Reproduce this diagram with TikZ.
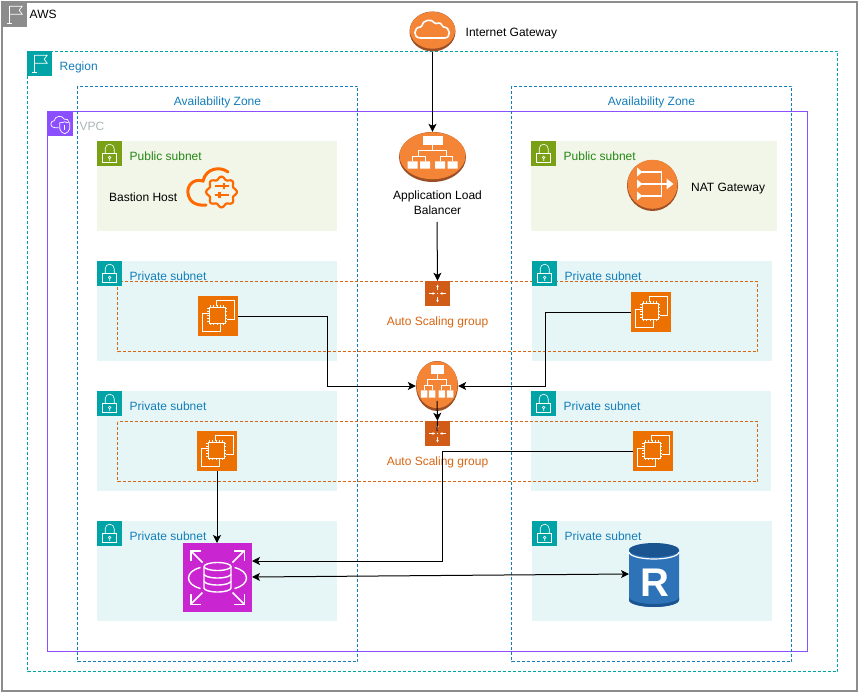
\documentclass[tikz,border=0pt]{standalone}
\usepackage{fontspec}
\setmainfont{Liberation Sans}
\usetikzlibrary{shapes.geometric,arrows.meta,calc}
\definecolor{awsgray}{HTML}{8C8C8C}
\definecolor{regionteal}{HTML}{00A4A6}
\definecolor{azblue}{HTML}{147EBA}
\definecolor{vpcpurple}{HTML}{8C4FFF}
\definecolor{pubgreen}{HTML}{7AA116}
\definecolor{pubtext}{HTML}{248814}
\definecolor{pubfill}{HTML}{F2F6E8}
\definecolor{privfill}{HTML}{E6F6F7}
\definecolor{asgorange}{HTML}{D86613}
\definecolor{ec2orange}{HTML}{ED7100}
\definecolor{asgfill}{HTML}{D05C17}
\definecolor{netorange}{HTML}{F58536}
\definecolor{netdark}{HTML}{9D5025}
\definecolor{auroramag}{HTML}{C925D1}
\definecolor{redisblue}{HTML}{2E73B8}
\definecolor{redisdark}{HTML}{1A5491}
\definecolor{bastionor}{HTML}{FF6A00}
\definecolor{vpcgray}{HTML}{AAB7B8}
\tikzset{
  lbl/.style={font=\fontsize{12}{15}\selectfont,inner sep=0pt,text=#1},
  lbl/.default=black,
  tagbox/.style={draw=none,fill=#1,minimum size=25pt,inner sep=0pt,anchor=north west,rectangle},
  subnetpub/.style={fill=pubfill,draw=none},
  subnetpriv/.style={fill=privfill,draw=none},
  zonebox/.style={draw=azblue,dashed,dash pattern=on 3pt off 2pt,line width=.8pt},
  regionbox/.style={draw=regionteal,dash pattern=on 3pt off 2pt,line width=.8pt},
  asgbox/.style={draw=asgorange,dash pattern=on 3pt off 2pt,line width=.7pt},
  iconbox/.style={rectangle,inner sep=0pt,fill=#1,minimum size=0pt},
  netellipse/.style={ellipse,inner sep=0pt,fill=netdark},
  wire/.style={draw=black,line width=1pt,-{Stealth[length=8pt,width=8pt,inset=2pt]}},
  wireboth/.style={draw=black,line width=1pt,{Stealth[length=8pt,width=8pt,inset=2pt]}-{Stealth[length=8pt,width=8pt,inset=2pt]}},
  stub/.style={draw=black,line width=1pt},
  glyph/.style={draw=white,line width=#1,fill=none},
  glyph/.default=1pt,
  flagglyph/.pic={
    \draw[glyph=.7pt] (-5,-8.5)--(-5,9) (-7.5,9)--(-2.5,9);
    \draw[glyph=.7pt] (-5,-8.5)--(7.5,-8.5)--(4.5,-4.5)--(7.5,-.5)--(-5,-.5);
  },
  lockglyph/.pic={
    \draw[glyph=.6pt] (-7,0) rectangle (7,9);
    \draw[glyph=.6pt] (-4.5,0)--(-4.5,-5) arc[start angle=180,end angle=0,x radius=4.5,y radius=-4.5]--(4.5,0);
    \draw[glyph=.6pt] (0,3.8) circle (1.3) (0,5.1)--(0,7.2);
  },
  vpcglyph/.pic={
    \draw[glyph=.7pt] (-2,4) -- (-6,4) .. controls (-11,4) and (-11,-3) .. (-6.5,-3) .. controls (-6,-8) and (2,-9) .. (3.5,-4.5) .. controls (6,-5) and (8,-4) .. (8,-2);
    \draw[glyph=.7pt] (-1,-1) .. controls (1,0) and (3,-2) .. (4,-2) .. controls (5,-2) and (7,0) .. (9,-1) -- (9,5) .. controls (9,8) and (6,9) .. (4,10) .. controls (2,9) and (-1,8) .. (-1,5) -- cycle;
    \draw[glyph=.6pt] (4,1)--(4,6);
  },
  cloudglyph/.pic={
    \draw[glyph=1.6pt,rounded corners=1pt] (-11,9) .. controls (-20,9) and (-19,-2) .. (-11,-2) .. controls (-10,-9) and (-1,-11) .. (3,-5) .. controls (7,-7) and (10,-5) .. (10,-2) .. controls (18,-2) and (19,9) .. (11,9) -- cycle;
  },
  lbglyph/.pic={
    \fill[white] (-10,-21) rectangle (10,-12.3);
    \fill[white] (-25,4.3) rectangle (-15,11.7) (-12.5,4.3) rectangle (-2.5,11.7) (2.5,4.3) rectangle (12.5,11.7) (15,4.3) rectangle (25,11.7);
    \draw[glyph=.9pt] (0,-12.3)--(0,-7) (-14,-1)--(-14,-7)--(14,-7)--(14,-1);
    \draw[glyph=.9pt] (-20,4.3)--(-20,-1)--(-7.5,-1)--(-7.5,4.3) (7.5,4.3)--(7.5,-1)--(20,-1)--(20,4.3);
  },
  natglyph/.pic={
    \draw[glyph=1.9pt] (-10.5,-13.5)--(9,-13.5)--(9,10.5)--(-10.5,10.5);
    \draw[glyph=1.9pt] (-10.5,-1.5)--(14,-1.5);
    \fill[white] (14,-7)--(21,-1.5)--(14,4)--cycle;
    \fill[white] (-15.5,-18)--(-10,-13.5)--(-15.5,-9)--cycle;
    \fill[white] (-15.5,-6)--(-10,-1.5)--(-15.5,3)--cycle;
    \fill[white] (-15.5,6)--(-10,10.5)--(-15.5,15)--cycle;
  },
  ectwoglyph/.pic={
    \draw[glyph=.9pt] (-2,-10)--(-2,-15.3)--(16,-15.3)--(16,3)--(9,3);
    \draw[glyph=.9pt] (-9,-2.3)--(-16,-2.3)--(-16,15.7)--(2,15.7)--(2,9);
    \draw[glyph=1pt] (-9,-9) rectangle (7,7);
    \foreach \t in {-6.5,-3.3,-.1,3.1,6.3}{
      \draw[glyph=.6pt] (\t-1,-9)--(\t-1,-11) (\t-1,7)--(\t-1,9) (-9,\t-1)--(-11,\t-1) (7,\t-1)--(9,\t-1);
    }
  },
  asgglyph/.pic={
    \draw[glyph=.6pt,-{Stealth[length=2.5pt,width=2.5pt]}] (0,-3.5)--(0,-9);
    \draw[glyph=.6pt,-{Stealth[length=2.5pt,width=2.5pt]}] (0,3.5)--(0,9);
    \draw[glyph=.6pt,-{Stealth[length=2.5pt,width=2.5pt]}] (-8.5,0)--(-2.5,0);
    \draw[glyph=.6pt,-{Stealth[length=2.5pt,width=2.5pt]}] (8.5,0)--(2.5,0);
    \fill[white] (0,0) circle (.7);
  },
  auroraglyph/.pic={
    \foreach \sx/\sy in {-1/-1,1/-1,-1/1,1/1}{
      \draw[glyph=1.6pt] (\sx*15,\sy*15)--(\sx*26.8,\sy*26.8);
      \draw[glyph=1.6pt] (\sx*16.5,\sy*26.8)--(\sx*26.8,\sy*26.8)--(\sx*26.8,\sy*16.5);
    }
    \draw[glyph=1.4pt] (-13.5,-11) arc[start angle=180,end angle=-180,x radius=13.5,y radius=4];
    \draw[glyph=1.4pt] (-13.5,-11)--(-13.5,10.5) arc[start angle=180,end angle=360,x radius=13.5,y radius=-4]--(13.5,-11);
    \draw[glyph=1.4pt] (-13.5,-3.5) arc[start angle=180,end angle=360,x radius=13.5,y radius=-4];
    \draw[glyph=1.4pt] (-13.5,3.5) arc[start angle=180,end angle=360,x radius=13.5,y radius=-4];
    \draw[glyph=1.4pt] (-17,-10) .. controls (-33,-6) and (-33,7) .. (-17,11);
    \draw[glyph=1.4pt] (17,-10) .. controls (33,-6) and (33,7) .. (17,11);
  }
}
\begin{document}
\begin{tikzpicture}[x=1pt,y=-1pt]
\useasboundingbox (0,0) rectangle (858,692);
\fill[white] (0,0) rectangle (858,692);
% containers
\draw[awsgray,line width=2pt] (2,2) rectangle (856.5,690.5);
\draw[regionbox] (27.5,51.5) rectangle (837.5,671.5);
\draw[vpcpurple,line width=.9pt] (47.5,111.5) rectangle (807.5,651.5);
\draw[zonebox] (77.5,86.5) rectangle (357.5,661.5);
\draw[zonebox] (511.5,86.5) rectangle (791.5,661.5);
% subnets
\fill[subnetpub] (97,141) rectangle (337,231);
\fill[subnetpub] (531,141) rectangle (777,231);
\fill[subnetpriv] (97,261) rectangle (337,361);
\fill[subnetpriv] (97,391) rectangle (337,491);
\fill[subnetpriv] (97,521) rectangle (337,621);
\fill[subnetpriv] (532,261) rectangle (772,361);
\fill[subnetpriv] (531,391) rectangle (771,491);
\fill[subnetpriv] (532,521) rectangle (772,621);
% auto scaling boxes
\draw[asgbox] (117.5,281.5) rectangle (757.5,351.5);
\draw[asgbox] (117.5,421.5) rectangle (757.5,481.5);
% tags
\node[tagbox=awsgray] (tagaws) at (2,2) {}; \pic at (tagaws.center) {flagglyph};
\node[tagbox=regionteal] (tagregion) at (27,51) {}; \pic at (tagregion.center) {flagglyph};
\node[tagbox=vpcpurple] (tagvpc) at (48,111) {}; \pic at (tagvpc.center) {vpcglyph};
\node[tagbox=pubgreen] (tagpuba) at (97,141) {}; \pic at (tagpuba.center) {lockglyph};
\node[tagbox=pubgreen] (tagpubb) at (531,141) {}; \pic at (tagpubb.center) {lockglyph};
\node[tagbox=regionteal] (tagpriva) at (97,261) {}; \pic at (tagpriva.center) {lockglyph};
\node[tagbox=regionteal] (tagprivb) at (97,391) {}; \pic at (tagprivb.center) {lockglyph};
\node[tagbox=regionteal] (tagprivc) at (97,521) {}; \pic at (tagprivc.center) {lockglyph};
\node[tagbox=regionteal] (tagprivd) at (532,261) {}; \pic at (tagprivd.center) {lockglyph};
\node[tagbox=regionteal] (tagprive) at (531,391) {}; \pic at (tagprive.center) {lockglyph};
\node[tagbox=regionteal] (tagprivf) at (532,521) {}; \pic at (tagprivf.center) {lockglyph};
% labels
\node[lbl,anchor=base west] (txaws) at (29.5,18.5) {AWS};
\node[lbl=azblue,anchor=base west] (txregion) at (59.5,70.5) {Region};
\node[lbl=azblue,anchor=base] (txaza) at (217.5,105.5) {Availability Zone};
\node[lbl=azblue,anchor=base] (txazb) at (651.5,105.5) {Availability Zone};
\node[lbl=vpcgray,anchor=base west] (txvpc) at (79.5,130.5) {VPC};
\node[lbl=pubtext,anchor=base west] (txpuba) at (129.5,160.5) {Public subnet};
\node[lbl=pubtext,anchor=base west] (txpubb) at (563.5,160.5) {Public subnet};
\node[lbl=azblue,anchor=base west] (txpriva) at (129.5,280.5) {Private subnet};
\node[lbl=azblue,anchor=base west] (txprivb) at (129.5,410.5) {Private subnet};
\node[lbl=azblue,anchor=base west] (txprivc) at (129.5,540.5) {Private subnet};
\node[lbl=azblue,anchor=base west] (txprivd) at (564.5,280.5) {Private subnet};
\node[lbl=azblue,anchor=base west] (txprive) at (563.5,410.5) {Private subnet};
\node[lbl=azblue,anchor=base west] (txprivf) at (564.5,540.5) {Private subnet};
\node[lbl,anchor=base west] (txbastion) at (109,201.5) {Bastion Host};
\node[lbl,anchor=base west] (txnat) at (691,191.5) {NAT Gateway};
\node[lbl,anchor=base west] (txigw) at (465.5,36.5) {Internet Gateway};
\node[lbl,align=center,anchor=center,inner sep=2pt] (txalb) at (437.5,203) {Application Load\\Balancer};
\node[lbl=asgorange,anchor=base] (txasga) at (437.5,325.5) {Auto Scaling group};
\node[lbl=asgorange,anchor=base] (txasgb) at (437.5,465.5) {Auto Scaling group};
% gateway icons
\node[netellipse,minimum width=46pt,minimum height=40pt] (igw) at (432.5,31.5) {};
\fill[netorange] (432.5,30.3) ellipse [x radius=22.6,y radius=18.4];
\pic at (432.5,29) {cloudglyph};
\node[netellipse,minimum width=67pt,minimum height=50pt] (alb) at (432.5,157) {};
\fill[netorange] (432.5,155.7) ellipse [x radius=33,y radius=23.5];
\pic at (alb.center) {lbglyph};
\node[netellipse,minimum width=51pt,minimum height=51pt] (nat) at (652.5,185.5) {};
\fill[netorange] (652.5,184.3) ellipse [x radius=25,y radius=24.5];
\pic at (nat.center) {natglyph};
\node[netellipse,minimum width=42pt,minimum height=50pt] (ilb) at (437,386) {};
\fill[netorange] (437,384.7) ellipse [x radius=20.6,y radius=23.4];
\pic[xscale=.65] at (ilb.center) {lbglyph};
% bastion
\coordinate (bast) at (221.5,192);
\draw[bastionor,line width=3pt,line cap=round] (228,172) .. controls (220,166) and (206,168) .. (203,181) .. controls (192,178) and (187,187) .. (188,193) .. controls (189,202) and (196,206) .. (206,205);
\draw[bastionor,line width=2.2pt] plot[domain=0:360,samples=90,smooth] ({221.5+(14+1.4*cos(8*\x))*cos(\x)},{192+(14+1.4*cos(8*\x))*sin(\x)});
\draw[bastionor,line width=2.2pt] (214.5,186)--(229,186) (214.5,195)--(229,195) (224,183)--(224,189) (219.5,192)--(219.5,198);
% compute icons
\node[iconbox=ec2orange,minimum size=40pt] (ecaa) at (218,316) {}; \pic at (ecaa.center) {ectwoglyph};
\node[iconbox=ec2orange,minimum size=40pt] (ecab) at (651,312) {}; \pic at (ecab.center) {ectwoglyph};
\node[iconbox=ec2orange,minimum size=40pt] (ecba) at (217,451) {}; \pic at (ecba.center) {ectwoglyph};
\node[iconbox=ec2orange,minimum size=40pt] (ecbb) at (653,451) {}; \pic at (ecbb.center) {ectwoglyph};
\node[iconbox=asgfill,minimum size=25pt] (asga) at (437.5,293.5) {}; \pic at (asga.center) {asgglyph};
\node[iconbox=asgfill,minimum size=25pt] (asgb) at (437.5,433.5) {}; \pic at (asgb.center) {asgglyph};
% databases
\node[iconbox=auroramag,minimum size=69pt] (aurora) at (217.5,577.5) {}; \pic at (aurora.center) {auroraglyph};
\node[rectangle,inner sep=0pt,minimum width=50pt,minimum height=64pt] (redis) at (654,575) {};
\fill[redisblue] (629,550) -- (629,600) arc[start angle=180,end angle=360,x radius=25,y radius=-7] -- (679,550) -- cycle;
\fill[redisdark] (629,597) -- (629,600) arc[start angle=180,end angle=360,x radius=25,y radius=-7] -- (679,597) arc[start angle=360,end angle=180,x radius=25,y radius=-7] -- cycle;
\draw[white,line width=1.2pt] (629,552) arc[start angle=180,end angle=360,x radius=25,y radius=-7];
\fill[redisdark] (654,550) ellipse [x radius=25,y radius=7];
\node[anchor=base,inner sep=0pt,text=white,font=\fontsize{40}{40}\bfseries\selectfont] (redisr) at (655,596) {R};
% connectors
\coordinate (ilbout) at (437,401);
\coordinate (asgbin) at (437,431);
\coordinate (dbup) at (252,577);
\coordinate (dbdown) at (629,574);
\draw[wire] (igw.south) -- (alb.north);
\draw[wire] (437,222) -- (asga.north);
\draw[wire] (ecaa.east) -- (327,316) -- (327,386) -- (ilb.west);
\draw[wire] (ecab.west) -- (545,312) -- (545,386) -- (ilb.east);
\draw[wire] (ilbout) -- (asgb.north);
\draw[stub] (asgb.north) -- (asgbin);
\draw[wire] (ecba.south) -- (217,543);
\draw[wire] (ecbb.west) -- (442,451) -- (442,561) -- (252,561);
\draw[wireboth] (dbup) -- (dbdown);
\end{tikzpicture}
\end{document}
